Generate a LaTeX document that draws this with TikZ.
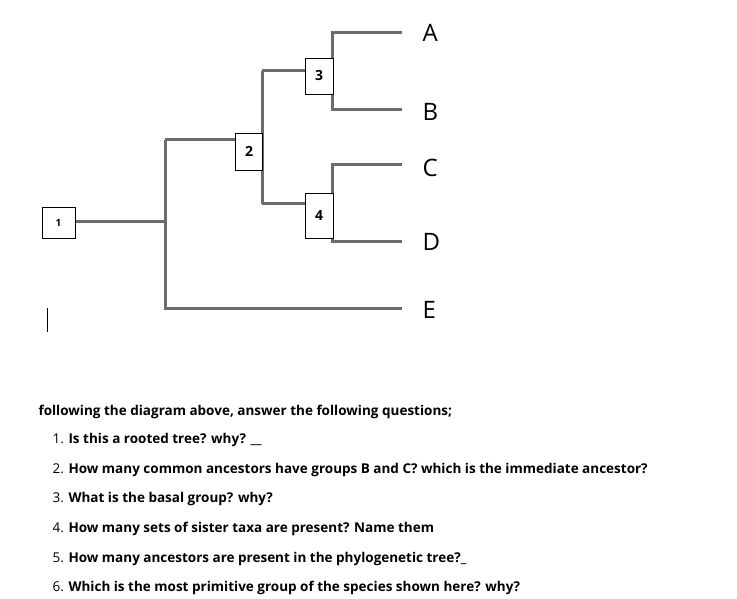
\documentclass[tikz,border=0pt]{standalone}
\usepackage{fontspec}
\setmainfont{Open Sans}
\begin{document}
\begin{tikzpicture}[x=1pt,y=-1pt,
  br/.style={draw=gray!85!black,line width=3pt},
  bx/.style={draw=black,fill=white,line width=0.8pt,inner sep=0pt,font=\fontsize{14}{16}\selectfont\bfseries},
  lab/.style={font=\fontsize{24}{26}\selectfont,anchor=west},
  q/.style={anchor=west,font=\fontsize{13.5}{15}\selectfont\bfseries}]
\useasboundingbox (0,0) rectangle (737,599);
% branches
\draw[br] (75,222) -- (165,222);
\draw[br] (165,140) -- (165,308) -- (402,308);
\draw[br] (165,140) -- (236,140);
\draw[br] (262,71) -- (262,204);
\draw[br] (262,71) -- (305,71);
\draw[br] (262,204) -- (305,204);
\draw[br] (402,33) -- (332,33) -- (332,110) -- (402,110);
\draw[br] (402,165) -- (332,165) -- (332,242) -- (402,242);
% boxes
\node[bx,minimum width=33pt,minimum height=31pt] (n1) at (58.5,222.5) {\fontsize{10}{11}\selectfont\bfseries 1};
\node[bx,minimum width=27pt,minimum height=37pt] (n2) at (249,151.5) {2};
\node[bx,minimum width=28pt,minimum height=36pt] (n3) at (319,76) {3};
\node[bx,minimum width=28pt,minimum height=45pt] (n4) at (319,215.5) {4};
% labels
\node[lab] (A) at (419,33) {A};
\node[lab] (B) at (419,112) {B};
\node[lab] (C) at (419,168) {C};
\node[lab] (D) at (419,242) {D};
\node[lab] (E) at (419,310) {E};
\draw[black,line width=0.9pt] (47,308) -- (47,332);
% questions
\node[q] (t0) at (35,412) {following the diagram above, answer the following questions;};
\node[q] (q1) at (49,440) {\mdseries 1. \bfseries Is this a rooted tree? why? \_\_};
\node[q] (q2) at (49,470) {\mdseries 2. \bfseries How many common ancestors have groups B and C? which is the immediate ancestor?};
\node[q] (q3) at (49,499) {\mdseries 3. \bfseries What is the basal group? why?};
\node[q] (q4) at (49,529) {\mdseries 4. \bfseries How many sets of sister taxa are present? Name them};
\node[q] (q5) at (49,559) {\mdseries 5. \bfseries How many ancestors are present in the phylogenetic tree?\_};
\node[q] (q6) at (49,588) {\mdseries 6. \bfseries Which is the most primitive group of the species shown here? why?};
\end{tikzpicture}
\end{document}
